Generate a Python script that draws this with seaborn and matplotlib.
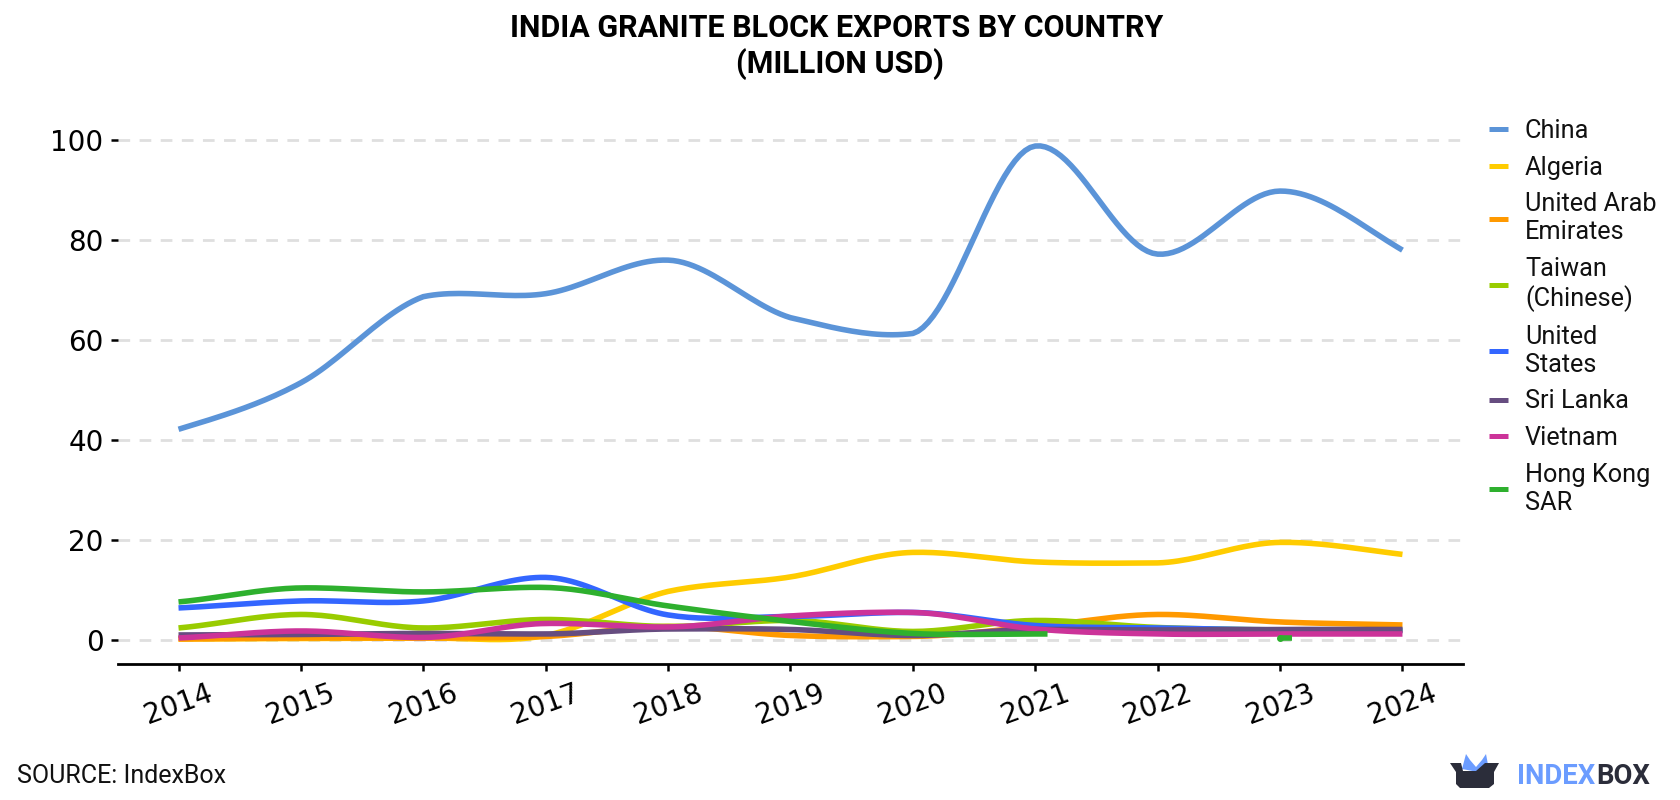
import numpy as np
import pandas as pd
import matplotlib
matplotlib.use("Agg")
import matplotlib.pyplot as plt
from matplotlib.lines import Line2D
from matplotlib.patches import Polygon
import seaborn as sns

years = [2014, 2015, 2016, 2017, 2018, 2019, 2020, 2021, 2022, 2023, 2024]
nan = float("nan")
china = [42.2, 51.5, 68.7, 69.3, 76.0, 64.5, 61.35, 98.8, 77.2, 89.8, 78.0]
algeria = [0.3, 0.4, 0.5, 1.0, 9.8, 12.7, 17.6, 15.7, 15.5, 19.6, 17.2]
uae = [0.3, 0.5, 0.5, 0.8, 2.8, 1.0, 0.8, 2.8, 5.2, 3.7, 3.1]
taiwan = [2.5, 5.2, 2.5, 4.2, 2.8, 4.0, 1.8, 4.0, 2.6, 2.1, 2.0]
usa = [6.5, 7.9, 7.9, 12.6, 5.1, 4.8, 5.6, 3.0, 2.5, 2.1, 2.0]
sri_lanka = [1.1, 1.2, 1.4, 1.3, 2.3, 2.2, 1.0, 2.2, 2.1, 2.2, 2.2]
vietnam = [0.5, 1.9, 0.6, 3.4, 2.7, 4.9, 5.6, 2.3, 1.3, 1.3, 1.3]
hong_kong = [7.7, 10.5, 9.7, 10.6, 6.9, 3.8, 1.4, 1.3, nan, 0.4, nan]

names = ["China", "Algeria", "United Arab Emirates", "Taiwan (Chinese)",
         "United States", "Sri Lanka", "Vietnam", "Hong Kong SAR"]
legend_labels = ["China", "Algeria", "United Arab\nEmirates", "Taiwan\n(Chinese)",
                 "United\nStates", "Sri Lanka", "Vietnam", "Hong Kong\nSAR"]
series = [china, algeria, uae, taiwan, usa, sri_lanka, vietnam, hong_kong]
colors = ["#5b94d8", "#ffcc00", "#ff9900", "#99cc00",
          "#3366ff", "#664d80", "#cc3399", "#2eb02e"]


def side_tangents(prev_slope, next_slope):
    """Left and right tangents at an interior year, damped at turning points."""
    m = (prev_slope + next_slope) / 2
    if prev_slope * next_slope < 0:
        m *= 0.4
        left = min(abs(m), abs(prev_slope))
        right = min(abs(m), abs(next_slope))
    else:
        left = min(abs(m), max(1.8 * abs(prev_slope), 5.0))
        right = min(abs(m), max(1.8 * abs(next_slope), 5.0))
    return np.sign(m) * left, np.sign(m) * right


def smooth_run(x, y, steps=24):
    """Piecewise cubic through the yearly values of one unbroken run."""
    x, y = np.asarray(x, float), np.asarray(y, float)
    if len(x) == 1:
        return x, y
    d = np.diff(y) / np.diff(x)
    left_tan = np.zeros_like(y)
    right_tan = np.zeros_like(y)
    for i in range(1, len(y) - 1):
        left_tan[i], right_tan[i] = side_tangents(d[i - 1], d[i])
    right_tan[0] = d[0] * 0.8
    left_tan[-1] = d[-1] * 1.2
    xs, ys = [], []
    for i in range(len(x) - 1):
        t = np.linspace(0, 1, steps, endpoint=False)
        h = x[i + 1] - x[i]
        ys.append((2*t**3 - 3*t**2 + 1) * y[i] + (t**3 - 2*t**2 + t) * h * right_tan[i]
                  + (-2*t**3 + 3*t**2) * y[i + 1] + (t**3 - t**2) * h * left_tan[i + 1])
        xs.append(x[i] + t * h)
    return np.append(np.concatenate(xs), x[-1]), np.append(np.concatenate(ys), y[-1])


rows = []
for name, vals in zip(names, series):
    vals = np.array(vals, float)
    run, start = 0, None
    for i in range(len(vals) + 1):
        present = i < len(vals) and not np.isnan(vals[i])
        if present and start is None:
            start = i
        if not present and start is not None:
            xs, ys = smooth_run(years[start:i], vals[start:i])
            # a series with a missing year stops in a short flat stub
            if i < len(vals):
                xs = np.append(xs, xs[-1] + 0.1)
                ys = np.append(ys, ys[-1])
            rows.append(pd.DataFrame({"year": xs, "value": ys, "country": name, "run": run}))
            run += 1
            start = None
frame = pd.concat(rows, ignore_index=True)

sns.set_theme(style="white")
plt.rcParams["font.family"] = ["Roboto", "DejaVu Sans"]

W, H = 1680, 800
fig = plt.figure(figsize=(W / 100, H / 100), dpi=100, facecolor="white")
ax = fig.add_axes([117.5 / W, 1 - 663.5 / H, (1462.5 - 117.5) / W, (663.5 - 115) / H])

ax.yaxis.grid(True, color="#dfdfdf", linewidth=2.0, linestyle=(0, (4.2, 3.4)))
ax.set_axisbelow(True)

sns.lineplot(data=frame, x="year", y="value", hue="country", hue_order=names,
             palette=dict(zip(names, colors)), units="run", estimator=None,
             sort=False, linewidth=4.0, legend=False, ax=ax,
             solid_capstyle="butt", solid_joinstyle="round")

# round start of the isolated 2023 value
ax.plot([2023], [hong_kong[9]], "o", color=colors[7], markersize=4.0, zorder=5)

ax.set_xlim(2014 - 0.4985, 2024 + 0.4905)
ax.set_ylim(-4.6, 105)
ax.set_xlabel("")
ax.set_ylabel("")
ax.set_xticks(years)
ax.set_yticks([0, 20, 40, 60, 80, 100])
ax.tick_params(axis="x", labelsize=20, length=5, width=1.8, color="black",
               labelcolor="black", rotation=20, pad=6, bottom=True)
ax.tick_params(axis="y", labelsize=20, length=5, width=1.8, color="black",
               labelcolor="black", pad=5, left=True)
for lab in ax.get_xticklabels() + ax.get_yticklabels():
    lab.set_fontfamily("DejaVu Sans")
for side in ["top", "right", "left"]:
    ax.spines[side].set_visible(False)
ax.spines["bottom"].set_color("black")
ax.spines["bottom"].set_linewidth(2.0)

handles = [Line2D([], [], color=c, linewidth=3.6, solid_capstyle="butt") for c in colors]
leg = fig.legend(handles, legend_labels, loc="upper left", bbox_to_anchor=(1489 / W, 1 - 119 / H),
                 frameon=False, fontsize=18.2, handlelength=0.75, handletextpad=0.67,
                 labelspacing=0.5, borderpad=0, borderaxespad=0, labelcolor="#111111")
for txt in leg.get_texts():
    txt.set_linespacing(1.21)

fig.text(837 / W, 1 - 28 / H, "INDIA GRANITE BLOCK EXPORTS BY COUNTRY", ha="center", va="center",
         fontsize=22, fontweight="bold", color="black")
fig.text(840 / W, 1 - 64 / H, "(MILLION USD)", ha="center", va="center",
         fontsize=22, fontweight="bold", color="black")
fig.text(17 / W, 1 - 776 / H, "SOURCE: IndexBox", ha="left", va="center", fontsize=18,
         color="#111111")

# IndexBox wordmark and box icon, placed in pixel coordinates
def px(points):
    return [(x / W, 1 - y / H) for x, y in points]

fig.add_artist(Polygon(px([(1462, 769), (1466, 754), (1470, 760), (1476, 767), (1482, 760),
                           (1486, 754), (1489, 770), (1478, 772)]),
                       closed=True, facecolor="#6b9cff", edgecolor="none", transform=fig.transFigure))
fig.add_artist(Polygon(px([(1450, 763), (1461, 763), (1463, 771), (1476, 771), (1485, 763), (1499, 763),
                           (1494, 772), (1494, 784), (1489, 788), (1460, 788), (1456, 784), (1456, 772)]),
                       closed=True, facecolor="#2b2d3a", edgecolor="none", transform=fig.transFigure))
t1 = fig.text(1517 / W, 1 - 776 / H, "INDEX", ha="left", va="center", fontsize=19.8,
              fontweight="bold", color="#6b9cff")
fig.canvas.draw()
bb = t1.get_window_extent()
fig.text((bb.x1 + 0.5) / W, 1 - 776 / H, "BOX", ha="left", va="center", fontsize=19.8,
         fontweight="bold", color="#2b2d3a")

fig.savefig("out.png", dpi=100, facecolor="white")
